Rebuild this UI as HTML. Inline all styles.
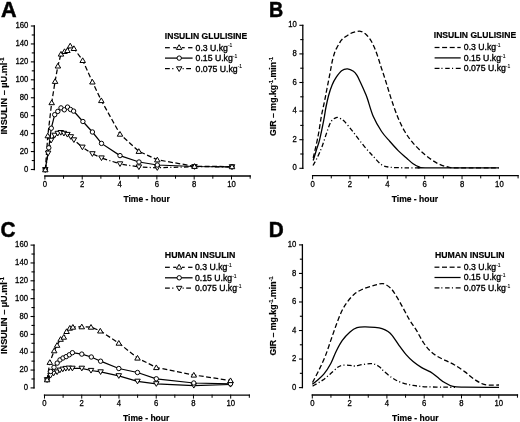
<!DOCTYPE html>
<html><head><meta charset="utf-8"><title>Figure</title>
<style>html,body{margin:0;padding:0;background:#fff;}svg{display:block;}</style>
</head><body>
<svg width="520" height="422" viewBox="0 0 520 422">
<rect width="520" height="422" fill="#fff"/>
<g font-family='"Liberation Sans", Arial, sans-serif' fill="#000">
<text x="0.9" y="17" font-size="21.6" font-weight="bold" text-anchor="start" stroke="#000" stroke-width="0.5">A</text>
<text x="269" y="16.7" font-size="21.6" font-weight="bold" text-anchor="start" textLength="14.2" lengthAdjust="spacingAndGlyphs" stroke="#000" stroke-width="0.5">B</text>
<text x="0.4" y="236.6" font-size="22.2" font-weight="bold" text-anchor="start" textLength="15" lengthAdjust="spacingAndGlyphs" stroke="#000" stroke-width="0.5">C</text>
<text x="268.8" y="236.6" font-size="21.6" font-weight="bold" text-anchor="start" textLength="15" lengthAdjust="spacingAndGlyphs" stroke="#000" stroke-width="0.5">D</text>
<g stroke="#000" fill="none" stroke-linecap="square">
<line x1="34.3" y1="26" x2="34.3" y2="169.5" stroke-width="1.3"/>
<line x1="31.4" y1="169.5" x2="34.3" y2="169.5" stroke-width="1.1"/>
<line x1="32.3" y1="160.53" x2="34.3" y2="160.53" stroke-width="1.1"/>
<line x1="31.4" y1="151.56" x2="34.3" y2="151.56" stroke-width="1.1"/>
<line x1="32.3" y1="142.59" x2="34.3" y2="142.59" stroke-width="1.1"/>
<line x1="31.4" y1="133.62" x2="34.3" y2="133.62" stroke-width="1.1"/>
<line x1="32.3" y1="124.66" x2="34.3" y2="124.66" stroke-width="1.1"/>
<line x1="31.4" y1="115.69" x2="34.3" y2="115.69" stroke-width="1.1"/>
<line x1="32.3" y1="106.72" x2="34.3" y2="106.72" stroke-width="1.1"/>
<line x1="31.4" y1="97.75" x2="34.3" y2="97.75" stroke-width="1.1"/>
<line x1="32.3" y1="88.78" x2="34.3" y2="88.78" stroke-width="1.1"/>
<line x1="31.4" y1="79.81" x2="34.3" y2="79.81" stroke-width="1.1"/>
<line x1="32.3" y1="70.84" x2="34.3" y2="70.84" stroke-width="1.1"/>
<line x1="31.4" y1="61.88" x2="34.3" y2="61.88" stroke-width="1.1"/>
<line x1="32.3" y1="52.91" x2="34.3" y2="52.91" stroke-width="1.1"/>
<line x1="31.4" y1="43.94" x2="34.3" y2="43.94" stroke-width="1.1"/>
<line x1="32.3" y1="34.97" x2="34.3" y2="34.97" stroke-width="1.1"/>
<line x1="31.4" y1="26" x2="34.3" y2="26" stroke-width="1.1"/>
<line x1="44.9" y1="176" x2="250.16" y2="176" stroke-width="1.3"/>
<line x1="44.9" y1="176" x2="44.9" y2="179" stroke-width="1.0"/>
<line x1="63.56" y1="176" x2="63.56" y2="178.2" stroke-width="1.0"/>
<line x1="82.22" y1="176" x2="82.22" y2="179" stroke-width="1.0"/>
<line x1="100.88" y1="176" x2="100.88" y2="178.2" stroke-width="1.0"/>
<line x1="119.54" y1="176" x2="119.54" y2="179" stroke-width="1.0"/>
<line x1="138.2" y1="176" x2="138.2" y2="178.2" stroke-width="1.0"/>
<line x1="156.86" y1="176" x2="156.86" y2="179" stroke-width="1.0"/>
<line x1="175.52" y1="176" x2="175.52" y2="178.2" stroke-width="1.0"/>
<line x1="194.18" y1="176" x2="194.18" y2="179" stroke-width="1.0"/>
<line x1="212.84" y1="176" x2="212.84" y2="178.2" stroke-width="1.0"/>
<line x1="231.5" y1="176" x2="231.5" y2="179" stroke-width="1.0"/>
<line x1="250.16" y1="176" x2="250.16" y2="178.2" stroke-width="1.0"/>
</g>
<text x="28.3" y="171.65" font-size="9.0" font-weight="normal" text-anchor="end" textLength="4.3" lengthAdjust="spacingAndGlyphs" stroke="#000" stroke-width="0.3">0</text>
<text x="28.3" y="153.71" font-size="9.0" font-weight="normal" text-anchor="end" textLength="8.6" lengthAdjust="spacingAndGlyphs" stroke="#000" stroke-width="0.3">20</text>
<text x="28.3" y="135.78" font-size="9.0" font-weight="normal" text-anchor="end" textLength="8.6" lengthAdjust="spacingAndGlyphs" stroke="#000" stroke-width="0.3">40</text>
<text x="28.3" y="117.84" font-size="9.0" font-weight="normal" text-anchor="end" textLength="8.6" lengthAdjust="spacingAndGlyphs" stroke="#000" stroke-width="0.3">60</text>
<text x="28.3" y="99.9" font-size="9.0" font-weight="normal" text-anchor="end" textLength="8.6" lengthAdjust="spacingAndGlyphs" stroke="#000" stroke-width="0.3">80</text>
<text x="28.3" y="81.96" font-size="9.0" font-weight="normal" text-anchor="end" textLength="12.9" lengthAdjust="spacingAndGlyphs" stroke="#000" stroke-width="0.3">100</text>
<text x="28.3" y="64.03" font-size="9.0" font-weight="normal" text-anchor="end" textLength="12.9" lengthAdjust="spacingAndGlyphs" stroke="#000" stroke-width="0.3">120</text>
<text x="28.3" y="46.09" font-size="9.0" font-weight="normal" text-anchor="end" textLength="12.9" lengthAdjust="spacingAndGlyphs" stroke="#000" stroke-width="0.3">140</text>
<text x="28.3" y="28.15" font-size="9.0" font-weight="normal" text-anchor="end" textLength="12.9" lengthAdjust="spacingAndGlyphs" stroke="#000" stroke-width="0.3">160</text>
<text x="44.9" y="187" font-size="9.0" font-weight="normal" text-anchor="middle" textLength="4.3" lengthAdjust="spacingAndGlyphs" stroke="#000" stroke-width="0.3">0</text>
<text x="82.22" y="187" font-size="9.0" font-weight="normal" text-anchor="middle" textLength="4.3" lengthAdjust="spacingAndGlyphs" stroke="#000" stroke-width="0.3">2</text>
<text x="119.54" y="187" font-size="9.0" font-weight="normal" text-anchor="middle" textLength="4.3" lengthAdjust="spacingAndGlyphs" stroke="#000" stroke-width="0.3">4</text>
<text x="156.86" y="187" font-size="9.0" font-weight="normal" text-anchor="middle" textLength="4.3" lengthAdjust="spacingAndGlyphs" stroke="#000" stroke-width="0.3">6</text>
<text x="194.18" y="187" font-size="9.0" font-weight="normal" text-anchor="middle" textLength="4.3" lengthAdjust="spacingAndGlyphs" stroke="#000" stroke-width="0.3">8</text>
<text x="231.5" y="187" font-size="9.0" font-weight="normal" text-anchor="middle" textLength="8.6" lengthAdjust="spacingAndGlyphs" stroke="#000" stroke-width="0.3">10</text>
<g stroke="#000" fill="none" stroke-linecap="square">
<line x1="302.8" y1="25.3" x2="302.8" y2="168.3" stroke-width="1.3"/>
<line x1="299.9" y1="168.3" x2="302.8" y2="168.3" stroke-width="1.1"/>
<line x1="300.8" y1="154" x2="302.8" y2="154" stroke-width="1.1"/>
<line x1="299.9" y1="139.7" x2="302.8" y2="139.7" stroke-width="1.1"/>
<line x1="300.8" y1="125.4" x2="302.8" y2="125.4" stroke-width="1.1"/>
<line x1="299.9" y1="111.1" x2="302.8" y2="111.1" stroke-width="1.1"/>
<line x1="300.8" y1="96.8" x2="302.8" y2="96.8" stroke-width="1.1"/>
<line x1="299.9" y1="82.5" x2="302.8" y2="82.5" stroke-width="1.1"/>
<line x1="300.8" y1="68.2" x2="302.8" y2="68.2" stroke-width="1.1"/>
<line x1="299.9" y1="53.9" x2="302.8" y2="53.9" stroke-width="1.1"/>
<line x1="300.8" y1="39.6" x2="302.8" y2="39.6" stroke-width="1.1"/>
<line x1="299.9" y1="25.3" x2="302.8" y2="25.3" stroke-width="1.1"/>
<line x1="312.6" y1="175.7" x2="518.08" y2="175.7" stroke-width="1.3"/>
<line x1="312.6" y1="175.7" x2="312.6" y2="178.7" stroke-width="1.0"/>
<line x1="331.28" y1="175.7" x2="331.28" y2="177.9" stroke-width="1.0"/>
<line x1="349.96" y1="175.7" x2="349.96" y2="178.7" stroke-width="1.0"/>
<line x1="368.64" y1="175.7" x2="368.64" y2="177.9" stroke-width="1.0"/>
<line x1="387.32" y1="175.7" x2="387.32" y2="178.7" stroke-width="1.0"/>
<line x1="406" y1="175.7" x2="406" y2="177.9" stroke-width="1.0"/>
<line x1="424.68" y1="175.7" x2="424.68" y2="178.7" stroke-width="1.0"/>
<line x1="443.36" y1="175.7" x2="443.36" y2="177.9" stroke-width="1.0"/>
<line x1="462.04" y1="175.7" x2="462.04" y2="178.7" stroke-width="1.0"/>
<line x1="480.72" y1="175.7" x2="480.72" y2="177.9" stroke-width="1.0"/>
<line x1="499.4" y1="175.7" x2="499.4" y2="178.7" stroke-width="1.0"/>
<line x1="518.08" y1="175.7" x2="518.08" y2="177.9" stroke-width="1.0"/>
</g>
<text x="296.8" y="170.45" font-size="9.0" font-weight="normal" text-anchor="end" textLength="4.3" lengthAdjust="spacingAndGlyphs" stroke="#000" stroke-width="0.3">0</text>
<text x="296.8" y="141.85" font-size="9.0" font-weight="normal" text-anchor="end" textLength="4.3" lengthAdjust="spacingAndGlyphs" stroke="#000" stroke-width="0.3">2</text>
<text x="296.8" y="113.25" font-size="9.0" font-weight="normal" text-anchor="end" textLength="4.3" lengthAdjust="spacingAndGlyphs" stroke="#000" stroke-width="0.3">4</text>
<text x="296.8" y="84.65" font-size="9.0" font-weight="normal" text-anchor="end" textLength="4.3" lengthAdjust="spacingAndGlyphs" stroke="#000" stroke-width="0.3">6</text>
<text x="296.8" y="56.05" font-size="9.0" font-weight="normal" text-anchor="end" textLength="4.3" lengthAdjust="spacingAndGlyphs" stroke="#000" stroke-width="0.3">8</text>
<text x="296.8" y="27.45" font-size="9.0" font-weight="normal" text-anchor="end" textLength="8.6" lengthAdjust="spacingAndGlyphs" stroke="#000" stroke-width="0.3">10</text>
<text x="312.6" y="186.7" font-size="9.0" font-weight="normal" text-anchor="middle" textLength="4.3" lengthAdjust="spacingAndGlyphs" stroke="#000" stroke-width="0.3">0</text>
<text x="349.96" y="186.7" font-size="9.0" font-weight="normal" text-anchor="middle" textLength="4.3" lengthAdjust="spacingAndGlyphs" stroke="#000" stroke-width="0.3">2</text>
<text x="387.32" y="186.7" font-size="9.0" font-weight="normal" text-anchor="middle" textLength="4.3" lengthAdjust="spacingAndGlyphs" stroke="#000" stroke-width="0.3">4</text>
<text x="424.68" y="186.7" font-size="9.0" font-weight="normal" text-anchor="middle" textLength="4.3" lengthAdjust="spacingAndGlyphs" stroke="#000" stroke-width="0.3">6</text>
<text x="462.04" y="186.7" font-size="9.0" font-weight="normal" text-anchor="middle" textLength="4.3" lengthAdjust="spacingAndGlyphs" stroke="#000" stroke-width="0.3">8</text>
<text x="499.4" y="186.7" font-size="9.0" font-weight="normal" text-anchor="middle" textLength="8.6" lengthAdjust="spacingAndGlyphs" stroke="#000" stroke-width="0.3">10</text>
<g stroke="#000" fill="none" stroke-linecap="square">
<line x1="34" y1="245.1" x2="34" y2="387.9" stroke-width="1.3"/>
<line x1="31.1" y1="387.9" x2="34" y2="387.9" stroke-width="1.1"/>
<line x1="32" y1="378.97" x2="34" y2="378.97" stroke-width="1.1"/>
<line x1="31.1" y1="370.05" x2="34" y2="370.05" stroke-width="1.1"/>
<line x1="32" y1="361.12" x2="34" y2="361.12" stroke-width="1.1"/>
<line x1="31.1" y1="352.2" x2="34" y2="352.2" stroke-width="1.1"/>
<line x1="32" y1="343.27" x2="34" y2="343.27" stroke-width="1.1"/>
<line x1="31.1" y1="334.35" x2="34" y2="334.35" stroke-width="1.1"/>
<line x1="32" y1="325.43" x2="34" y2="325.43" stroke-width="1.1"/>
<line x1="31.1" y1="316.5" x2="34" y2="316.5" stroke-width="1.1"/>
<line x1="32" y1="307.57" x2="34" y2="307.57" stroke-width="1.1"/>
<line x1="31.1" y1="298.65" x2="34" y2="298.65" stroke-width="1.1"/>
<line x1="32" y1="289.73" x2="34" y2="289.73" stroke-width="1.1"/>
<line x1="31.1" y1="280.8" x2="34" y2="280.8" stroke-width="1.1"/>
<line x1="32" y1="271.88" x2="34" y2="271.88" stroke-width="1.1"/>
<line x1="31.1" y1="262.95" x2="34" y2="262.95" stroke-width="1.1"/>
<line x1="32" y1="254.03" x2="34" y2="254.03" stroke-width="1.1"/>
<line x1="31.1" y1="245.1" x2="34" y2="245.1" stroke-width="1.1"/>
<line x1="44.5" y1="395.1" x2="249.32" y2="395.1" stroke-width="1.3"/>
<line x1="44.5" y1="395.1" x2="44.5" y2="398.1" stroke-width="1.0"/>
<line x1="63.12" y1="395.1" x2="63.12" y2="397.3" stroke-width="1.0"/>
<line x1="81.74" y1="395.1" x2="81.74" y2="398.1" stroke-width="1.0"/>
<line x1="100.36" y1="395.1" x2="100.36" y2="397.3" stroke-width="1.0"/>
<line x1="118.98" y1="395.1" x2="118.98" y2="398.1" stroke-width="1.0"/>
<line x1="137.6" y1="395.1" x2="137.6" y2="397.3" stroke-width="1.0"/>
<line x1="156.22" y1="395.1" x2="156.22" y2="398.1" stroke-width="1.0"/>
<line x1="174.84" y1="395.1" x2="174.84" y2="397.3" stroke-width="1.0"/>
<line x1="193.46" y1="395.1" x2="193.46" y2="398.1" stroke-width="1.0"/>
<line x1="212.08" y1="395.1" x2="212.08" y2="397.3" stroke-width="1.0"/>
<line x1="230.7" y1="395.1" x2="230.7" y2="398.1" stroke-width="1.0"/>
<line x1="249.32" y1="395.1" x2="249.32" y2="397.3" stroke-width="1.0"/>
</g>
<text x="28" y="390.05" font-size="9.0" font-weight="normal" text-anchor="end" textLength="4.3" lengthAdjust="spacingAndGlyphs" stroke="#000" stroke-width="0.3">0</text>
<text x="28" y="372.2" font-size="9.0" font-weight="normal" text-anchor="end" textLength="8.6" lengthAdjust="spacingAndGlyphs" stroke="#000" stroke-width="0.3">20</text>
<text x="28" y="354.35" font-size="9.0" font-weight="normal" text-anchor="end" textLength="8.6" lengthAdjust="spacingAndGlyphs" stroke="#000" stroke-width="0.3">40</text>
<text x="28" y="336.5" font-size="9.0" font-weight="normal" text-anchor="end" textLength="8.6" lengthAdjust="spacingAndGlyphs" stroke="#000" stroke-width="0.3">60</text>
<text x="28" y="318.65" font-size="9.0" font-weight="normal" text-anchor="end" textLength="8.6" lengthAdjust="spacingAndGlyphs" stroke="#000" stroke-width="0.3">80</text>
<text x="28" y="300.8" font-size="9.0" font-weight="normal" text-anchor="end" textLength="12.9" lengthAdjust="spacingAndGlyphs" stroke="#000" stroke-width="0.3">100</text>
<text x="28" y="282.95" font-size="9.0" font-weight="normal" text-anchor="end" textLength="12.9" lengthAdjust="spacingAndGlyphs" stroke="#000" stroke-width="0.3">120</text>
<text x="28" y="265.1" font-size="9.0" font-weight="normal" text-anchor="end" textLength="12.9" lengthAdjust="spacingAndGlyphs" stroke="#000" stroke-width="0.3">140</text>
<text x="28" y="247.25" font-size="9.0" font-weight="normal" text-anchor="end" textLength="12.9" lengthAdjust="spacingAndGlyphs" stroke="#000" stroke-width="0.3">160</text>
<text x="44.5" y="406.1" font-size="9.0" font-weight="normal" text-anchor="middle" textLength="4.3" lengthAdjust="spacingAndGlyphs" stroke="#000" stroke-width="0.3">0</text>
<text x="81.74" y="406.1" font-size="9.0" font-weight="normal" text-anchor="middle" textLength="4.3" lengthAdjust="spacingAndGlyphs" stroke="#000" stroke-width="0.3">2</text>
<text x="118.98" y="406.1" font-size="9.0" font-weight="normal" text-anchor="middle" textLength="4.3" lengthAdjust="spacingAndGlyphs" stroke="#000" stroke-width="0.3">4</text>
<text x="156.22" y="406.1" font-size="9.0" font-weight="normal" text-anchor="middle" textLength="4.3" lengthAdjust="spacingAndGlyphs" stroke="#000" stroke-width="0.3">6</text>
<text x="193.46" y="406.1" font-size="9.0" font-weight="normal" text-anchor="middle" textLength="4.3" lengthAdjust="spacingAndGlyphs" stroke="#000" stroke-width="0.3">8</text>
<text x="230.7" y="406.1" font-size="9.0" font-weight="normal" text-anchor="middle" textLength="8.6" lengthAdjust="spacingAndGlyphs" stroke="#000" stroke-width="0.3">10</text>
<g stroke="#000" fill="none" stroke-linecap="square">
<line x1="302.4" y1="244.9" x2="302.4" y2="387.6" stroke-width="1.3"/>
<line x1="299.5" y1="387.6" x2="302.4" y2="387.6" stroke-width="1.1"/>
<line x1="300.4" y1="373.33" x2="302.4" y2="373.33" stroke-width="1.1"/>
<line x1="299.5" y1="359.06" x2="302.4" y2="359.06" stroke-width="1.1"/>
<line x1="300.4" y1="344.79" x2="302.4" y2="344.79" stroke-width="1.1"/>
<line x1="299.5" y1="330.52" x2="302.4" y2="330.52" stroke-width="1.1"/>
<line x1="300.4" y1="316.25" x2="302.4" y2="316.25" stroke-width="1.1"/>
<line x1="299.5" y1="301.98" x2="302.4" y2="301.98" stroke-width="1.1"/>
<line x1="300.4" y1="287.71" x2="302.4" y2="287.71" stroke-width="1.1"/>
<line x1="299.5" y1="273.44" x2="302.4" y2="273.44" stroke-width="1.1"/>
<line x1="300.4" y1="259.17" x2="302.4" y2="259.17" stroke-width="1.1"/>
<line x1="299.5" y1="244.9" x2="302.4" y2="244.9" stroke-width="1.1"/>
<line x1="312.3" y1="395" x2="517.45" y2="395" stroke-width="1.3"/>
<line x1="312.3" y1="395" x2="312.3" y2="398" stroke-width="1.0"/>
<line x1="330.95" y1="395" x2="330.95" y2="397.2" stroke-width="1.0"/>
<line x1="349.6" y1="395" x2="349.6" y2="398" stroke-width="1.0"/>
<line x1="368.25" y1="395" x2="368.25" y2="397.2" stroke-width="1.0"/>
<line x1="386.9" y1="395" x2="386.9" y2="398" stroke-width="1.0"/>
<line x1="405.55" y1="395" x2="405.55" y2="397.2" stroke-width="1.0"/>
<line x1="424.2" y1="395" x2="424.2" y2="398" stroke-width="1.0"/>
<line x1="442.85" y1="395" x2="442.85" y2="397.2" stroke-width="1.0"/>
<line x1="461.5" y1="395" x2="461.5" y2="398" stroke-width="1.0"/>
<line x1="480.15" y1="395" x2="480.15" y2="397.2" stroke-width="1.0"/>
<line x1="498.8" y1="395" x2="498.8" y2="398" stroke-width="1.0"/>
<line x1="517.45" y1="395" x2="517.45" y2="397.2" stroke-width="1.0"/>
</g>
<text x="296.4" y="389.75" font-size="9.0" font-weight="normal" text-anchor="end" textLength="4.3" lengthAdjust="spacingAndGlyphs" stroke="#000" stroke-width="0.3">0</text>
<text x="296.4" y="361.21" font-size="9.0" font-weight="normal" text-anchor="end" textLength="4.3" lengthAdjust="spacingAndGlyphs" stroke="#000" stroke-width="0.3">2</text>
<text x="296.4" y="332.67" font-size="9.0" font-weight="normal" text-anchor="end" textLength="4.3" lengthAdjust="spacingAndGlyphs" stroke="#000" stroke-width="0.3">4</text>
<text x="296.4" y="304.13" font-size="9.0" font-weight="normal" text-anchor="end" textLength="4.3" lengthAdjust="spacingAndGlyphs" stroke="#000" stroke-width="0.3">6</text>
<text x="296.4" y="275.59" font-size="9.0" font-weight="normal" text-anchor="end" textLength="4.3" lengthAdjust="spacingAndGlyphs" stroke="#000" stroke-width="0.3">8</text>
<text x="296.4" y="247.05" font-size="9.0" font-weight="normal" text-anchor="end" textLength="8.6" lengthAdjust="spacingAndGlyphs" stroke="#000" stroke-width="0.3">10</text>
<text x="312.3" y="406" font-size="9.0" font-weight="normal" text-anchor="middle" textLength="4.3" lengthAdjust="spacingAndGlyphs" stroke="#000" stroke-width="0.3">0</text>
<text x="349.6" y="406" font-size="9.0" font-weight="normal" text-anchor="middle" textLength="4.3" lengthAdjust="spacingAndGlyphs" stroke="#000" stroke-width="0.3">2</text>
<text x="386.9" y="406" font-size="9.0" font-weight="normal" text-anchor="middle" textLength="4.3" lengthAdjust="spacingAndGlyphs" stroke="#000" stroke-width="0.3">4</text>
<text x="424.2" y="406" font-size="9.0" font-weight="normal" text-anchor="middle" textLength="4.3" lengthAdjust="spacingAndGlyphs" stroke="#000" stroke-width="0.3">6</text>
<text x="461.5" y="406" font-size="9.0" font-weight="normal" text-anchor="middle" textLength="4.3" lengthAdjust="spacingAndGlyphs" stroke="#000" stroke-width="0.3">8</text>
<text x="498.8" y="406" font-size="9.0" font-weight="normal" text-anchor="middle" textLength="8.6" lengthAdjust="spacingAndGlyphs" stroke="#000" stroke-width="0.3">10</text>
<text x="146.6" y="201.7" font-size="9.2" font-weight="bold" text-anchor="middle" textLength="46.4" lengthAdjust="spacingAndGlyphs" stroke="#000" stroke-width="0.2">Time - hour</text>
<text x="414.9" y="201.6" font-size="9.2" font-weight="bold" text-anchor="middle" textLength="46.4" lengthAdjust="spacingAndGlyphs" stroke="#000" stroke-width="0.2">Time - hour</text>
<text x="146.2" y="421" font-size="9.2" font-weight="bold" text-anchor="middle" textLength="46.4" lengthAdjust="spacingAndGlyphs" stroke="#000" stroke-width="0.2">Time - hour</text>
<text x="415.3" y="420.8" font-size="9.2" font-weight="bold" text-anchor="middle" textLength="46.4" lengthAdjust="spacingAndGlyphs" stroke="#000" stroke-width="0.2">Time - hour</text>
<text transform="translate(7.4 134.5) rotate(-90) scale(0.985 1)" font-size="9.3" font-weight="bold" stroke="#000" stroke-width="0.15">INSULIN – µU.ml<tspan font-size="6" dy="-3.6">-1</tspan></text>
<text transform="translate(7.4 354.0) rotate(-90) scale(0.985 1)" font-size="9.3" font-weight="bold" stroke="#000" stroke-width="0.15">INSULIN – µU.ml<tspan font-size="6" dy="-3.6">-1</tspan></text>
<text transform="translate(276.2 136.0) rotate(-90) scale(0.955 1)" font-size="9.2" font-weight="bold" stroke="#000" stroke-width="0.15">GIR – mg.kg<tspan font-size="5.8" dy="-3.6">-1</tspan><tspan dy="3.6">.min</tspan><tspan font-size="5.8" dy="-3.6">-1</tspan></text>
<text transform="translate(276.2 355.6) rotate(-90) scale(0.955 1)" font-size="9.2" font-weight="bold" stroke="#000" stroke-width="0.15">GIR – mg.kg<tspan font-size="5.8" dy="-3.6">-1</tspan><tspan dy="3.6">.min</tspan><tspan font-size="5.8" dy="-3.6">-1</tspan></text>
<path d="M45.3 169.7 L48.1 153.2 L51.2 140.3 L54.7 135.3 L57.8 133.4 L60.8 132.6 L63.9 133.4 L67.4 134.5 L70.8 136.8 L73.9 139.9 L82.4 147.2 L92.4 153.8 L101.5 158 L120 163.9 L138.9 167 L157.3 167.8 L194.5 166.7 L232 166.8" fill="none" stroke="#000" stroke-width="1.25" stroke-dasharray="4.6 2.3 1.1 2.3"/>
<path d="M45.3 169.7 L48.8 147.8 L51.3 128.2 L54.7 114.7 L57.8 111.4 L61 107.9 L64.3 109.8 L67.5 107.1 L70.5 109.5 L73.6 111.1 L82.9 121.5 L92.4 132 L101.5 143.4 L120 155.6 L139 162 L157.3 165 L194.5 166.5 L232 166.8" fill="none" stroke="#000" stroke-width="1.25"/>
<path d="M45.3 169.7 L47.8 135.7 L51.7 102.6 L55.1 81.3 L57.9 65.9 L61 54 L64.5 51.4 L67.4 50.4 L70.2 45.8 L73.9 48.4 L82.7 60.4 L92.4 81.9 L101.3 100.5 L120 134.1 L138.8 151.3 L157.3 159.8 L194.5 166.3 L232 166.6" fill="none" stroke="#000" stroke-width="1.25" stroke-dasharray="4.9 2.5"/>
<g fill="#fff" stroke="#000" stroke-width="1">
<path d="M45.3 172.27L48.05 167.6H42.55Z"/>
<path d="M48.1 155.77L50.85 151.1H45.35Z"/>
<path d="M51.2 142.87L53.95 138.2H48.45Z"/>
<path d="M54.7 137.87L57.45 133.2H51.95Z"/>
<path d="M57.8 135.97L60.55 131.3H55.05Z"/>
<path d="M60.8 135.17L63.55 130.5H58.05Z"/>
<path d="M63.9 135.97L66.65 131.3H61.15Z"/>
<path d="M67.4 137.07L70.15 132.4H64.65Z"/>
<path d="M70.8 139.37L73.55 134.7H68.05Z"/>
<path d="M73.9 142.47L76.65 137.8H71.15Z"/>
<path d="M82.4 149.77L85.15 145.1H79.65Z"/>
<path d="M92.4 156.37L95.15 151.7H89.65Z"/>
<path d="M101.5 160.57L104.25 155.9H98.75Z"/>
<path d="M120 166.47L122.75 161.8H117.25Z"/>
<path d="M138.9 169.57L141.65 164.9H136.15Z"/>
<path d="M157.3 170.37L160.05 165.7H154.55Z"/>
<path d="M194.5 169.27L197.25 164.6H191.75Z"/>
<path d="M232 169.37L234.75 164.7H229.25Z"/>
</g>
<g fill="#fff" stroke="#000" stroke-width="1">
<circle cx="45.3" cy="169.7" r="2.2"/>
<circle cx="48.8" cy="147.8" r="2.2"/>
<circle cx="51.3" cy="128.2" r="2.2"/>
<circle cx="54.7" cy="114.7" r="2.2"/>
<circle cx="57.8" cy="111.4" r="2.2"/>
<circle cx="61" cy="107.9" r="2.2"/>
<circle cx="64.3" cy="109.8" r="2.2"/>
<circle cx="67.5" cy="107.1" r="2.2"/>
<circle cx="70.5" cy="109.5" r="2.2"/>
<circle cx="73.6" cy="111.1" r="2.2"/>
<circle cx="82.9" cy="121.5" r="2.2"/>
<circle cx="92.4" cy="132" r="2.2"/>
<circle cx="101.5" cy="143.4" r="2.2"/>
<circle cx="120" cy="155.6" r="2.2"/>
<circle cx="139" cy="162" r="2.2"/>
<circle cx="157.3" cy="165" r="2.2"/>
<circle cx="194.5" cy="166.5" r="2.2"/>
<circle cx="232" cy="166.8" r="2.2"/>
</g>
<g fill="#fff" stroke="#000" stroke-width="1">
<path d="M45.3 167.13L48.05 171.8H42.55Z"/>
<path d="M47.8 133.13L50.55 137.8H45.05Z"/>
<path d="M51.7 100.03L54.45 104.7H48.95Z"/>
<path d="M55.1 78.73L57.85 83.4H52.35Z"/>
<path d="M57.9 63.33L60.65 68H55.15Z"/>
<path d="M61 51.43L63.75 56.1H58.25Z"/>
<path d="M64.5 48.83L67.25 53.5H61.75Z"/>
<path d="M67.4 47.83L70.15 52.5H64.65Z"/>
<path d="M70.2 43.23L72.95 47.9H67.45Z"/>
<path d="M73.9 45.83L76.65 50.5H71.15Z"/>
<path d="M82.7 57.83L85.45 62.5H79.95Z"/>
<path d="M92.4 79.33L95.15 84H89.65Z"/>
<path d="M101.3 97.93L104.05 102.6H98.55Z"/>
<path d="M120 131.53L122.75 136.2H117.25Z"/>
<path d="M138.8 148.73L141.55 153.4H136.05Z"/>
<path d="M157.3 157.23L160.05 161.9H154.55Z"/>
<path d="M194.5 163.73L197.25 168.4H191.75Z"/>
<path d="M232 164.03L234.75 168.7H229.25Z"/>
</g>
<path d="M47.1 379.7 L50.5 375.5 L53.6 373.3 L57.1 372 L59.9 370.2 L62.8 369.2 L65.8 368.5 L68.9 368.2 L72.4 368.3 L81.8 368.3 L91 370.5 L100.6 371.9 L118.8 375.8 L137.5 381.3 L156.3 383.8 L193.8 385.5 L230.5 384.5" fill="none" stroke="#000" stroke-width="1.25"/>
<path d="M47.1 379.7 L50.6 371.5 L54 367.3 L57.2 363.1 L60 359.9 L63 358 L66.2 356.6 L69.3 354.8 L72.4 352.7 L81.8 354.1 L91.3 357 L100.6 361.2 L118.8 368.5 L137.5 372.5 L156.3 378.8 L193.8 383 L230.5 383.8" fill="none" stroke="#000" stroke-width="1.25"/>
<path d="M47.1 379.7 L49.8 362.3 L54.2 350.7 L57.1 345.2 L60.6 339.2 L63.8 337.1 L66.6 331.4 L69.8 328.1 L72.9 327.1 L81.8 326.7 L91 327.1 L100.3 330.9 L118.8 343.1 L137.5 358 L156.3 367.5 L193.8 375 L230.5 380.5" fill="none" stroke="#000" stroke-width="1.25" stroke-dasharray="4.9 2.5"/>
<g fill="#fff" stroke="#000" stroke-width="1">
<path d="M47.1 382.27L49.85 377.6H44.35Z"/>
<path d="M50.5 378.07L53.25 373.4H47.75Z"/>
<path d="M53.6 375.87L56.35 371.2H50.85Z"/>
<path d="M57.1 374.57L59.85 369.9H54.35Z"/>
<path d="M59.9 372.77L62.65 368.1H57.15Z"/>
<path d="M62.8 371.77L65.55 367.1H60.05Z"/>
<path d="M65.8 371.07L68.55 366.4H63.05Z"/>
<path d="M68.9 370.77L71.65 366.1H66.15Z"/>
<path d="M72.4 370.87L75.15 366.2H69.65Z"/>
<path d="M81.8 370.87L84.55 366.2H79.05Z"/>
<path d="M91 373.07L93.75 368.4H88.25Z"/>
<path d="M100.6 374.47L103.35 369.8H97.85Z"/>
<path d="M118.8 378.37L121.55 373.7H116.05Z"/>
<path d="M137.5 383.87L140.25 379.2H134.75Z"/>
<path d="M156.3 386.37L159.05 381.7H153.55Z"/>
<path d="M193.8 388.07L196.55 383.4H191.05Z"/>
<path d="M230.5 387.07L233.25 382.4H227.75Z"/>
</g>
<g fill="#fff" stroke="#000" stroke-width="1">
<circle cx="47.1" cy="379.7" r="2.2"/>
<circle cx="50.6" cy="371.5" r="2.2"/>
<circle cx="54" cy="367.3" r="2.2"/>
<circle cx="57.2" cy="363.1" r="2.2"/>
<circle cx="60" cy="359.9" r="2.2"/>
<circle cx="63" cy="358" r="2.2"/>
<circle cx="66.2" cy="356.6" r="2.2"/>
<circle cx="69.3" cy="354.8" r="2.2"/>
<circle cx="72.4" cy="352.7" r="2.2"/>
<circle cx="81.8" cy="354.1" r="2.2"/>
<circle cx="91.3" cy="357" r="2.2"/>
<circle cx="100.6" cy="361.2" r="2.2"/>
<circle cx="118.8" cy="368.5" r="2.2"/>
<circle cx="137.5" cy="372.5" r="2.2"/>
<circle cx="156.3" cy="378.8" r="2.2"/>
<circle cx="193.8" cy="383" r="2.2"/>
<circle cx="230.5" cy="383.8" r="2.2"/>
</g>
<g fill="#fff" stroke="#000" stroke-width="1">
<path d="M47.1 377.13L49.85 381.8H44.35Z"/>
<path d="M49.8 359.73L52.55 364.4H47.05Z"/>
<path d="M54.2 348.13L56.95 352.8H51.45Z"/>
<path d="M57.1 342.63L59.85 347.3H54.35Z"/>
<path d="M60.6 336.63L63.35 341.3H57.85Z"/>
<path d="M63.8 334.53L66.55 339.2H61.05Z"/>
<path d="M66.6 328.83L69.35 333.5H63.85Z"/>
<path d="M69.8 325.53L72.55 330.2H67.05Z"/>
<path d="M72.9 324.53L75.65 329.2H70.15Z"/>
<path d="M81.8 324.13L84.55 328.8H79.05Z"/>
<path d="M91 324.53L93.75 329.2H88.25Z"/>
<path d="M100.3 328.33L103.05 333H97.55Z"/>
<path d="M118.8 340.53L121.55 345.2H116.05Z"/>
<path d="M137.5 355.43L140.25 360.1H134.75Z"/>
<path d="M156.3 364.93L159.05 369.6H153.55Z"/>
<path d="M193.8 372.43L196.55 377.1H191.05Z"/>
<path d="M230.5 377.93L233.25 382.6H227.75Z"/>
</g>
<path d="M313.2 158 C314 154.42 316.65 143.4 318 136.5 C319.35 129.6 320.38 121.68 321.3 116.6 C322.22 111.52 322.85 109.1 323.5 106 C324.15 102.9 324.63 100.83 325.2 98 C325.77 95.17 326.32 92 326.9 89 C327.48 86 328.1 83.08 328.7 80 C329.3 76.92 329.9 73.67 330.5 70.5 C331.1 67.33 331.62 63.97 332.3 61 C332.98 58.03 333.82 54.95 334.6 52.7 C335.38 50.45 336.2 49.07 337 47.5 C337.8 45.93 338.7 44.48 339.4 43.3 C340.1 42.12 340.42 41.35 341.2 40.4 C341.98 39.45 343.12 38.38 344.1 37.6 C345.08 36.82 346.12 36.33 347.1 35.7 C348.08 35.07 348.82 34.4 350 33.8 C351.18 33.2 352.45 32.52 354.2 32.1 C355.95 31.68 358.52 30.9 360.5 31.3 C362.48 31.7 364.38 32.98 366.1 34.5 C367.82 36.02 369.42 38.23 370.8 40.4 C372.18 42.57 373.22 44.73 374.4 47.5 C375.58 50.27 376.82 53.83 377.9 57 C378.98 60.17 379.95 63.58 380.9 66.5 C381.85 69.42 382.57 71.32 383.6 74.5 C384.63 77.68 385.7 81.13 387.1 85.6 C388.5 90.07 390.15 95.87 392 101.3 C393.85 106.73 396.07 113.17 398.2 118.2 C400.33 123.23 402.32 127.35 404.8 131.5 C407.28 135.65 409.73 139.23 413.1 143.1 C416.47 146.97 420.9 151.3 425 154.7 C429.1 158.1 433.67 161.4 437.7 163.5 C441.73 165.6 445.48 166.58 449.2 167.3 C452.92 168.02 451.7 167.72 460 167.8 C468.3 167.88 492.5 167.8 499 167.8" fill="none" stroke="#000" stroke-width="1.3" stroke-dasharray="4.9 2.5"/>
<path d="M313.2 160.5 C313.73 158.75 315.33 153.45 316.4 150 C317.47 146.55 318.37 144.82 319.6 139.8 C320.83 134.78 322.75 125.28 323.8 119.9 C324.85 114.52 325.1 111.57 325.9 107.5 C326.7 103.43 327.57 99.27 328.6 95.5 C329.63 91.73 330.82 87.95 332.1 84.9 C333.38 81.85 334.72 79.57 336.3 77.2 C337.88 74.83 339.73 72.08 341.6 70.7 C343.47 69.32 345.53 68.8 347.5 68.9 C349.47 69 351.82 70.22 353.4 71.3 C354.98 72.38 355.82 73.53 357 75.4 C358.18 77.27 359.12 79.53 360.5 82.5 C361.88 85.47 364.13 90.45 365.3 93.2 C366.47 95.95 366.17 95.1 367.5 99 C368.83 102.9 370.95 111.18 373.3 116.6 C375.65 122.02 378.83 127.35 381.6 131.5 C384.37 135.65 387.13 138.32 389.9 141.5 C392.67 144.68 395.43 147.85 398.2 150.6 C400.97 153.35 404.02 155.8 406.5 158 C408.98 160.2 410.9 162.27 413.1 163.8 C415.3 165.33 417.72 166.53 419.7 167.2 C421.68 167.87 411.78 167.7 425 167.8 C438.22 167.9 486.67 167.8 499 167.8" fill="none" stroke="#000" stroke-width="1.3"/>
<path d="M313 165.5 C313.68 164.25 315.58 161.18 317.1 158 C318.62 154.82 320.43 150.82 322.1 146.4 C323.77 141.98 325.58 135.68 327.1 131.5 C328.62 127.32 329.68 123.62 331.2 121.3 C332.72 118.98 334.98 118.18 336.2 117.6 C337.42 117.02 337.15 117.18 338.5 117.8 C339.85 118.42 341.82 118.88 344.3 121.3 C346.78 123.72 350.2 128.28 353.4 132.3 C356.6 136.32 360.18 141.38 363.5 145.4 C366.82 149.42 370.28 153.18 373.3 156.4 C376.32 159.62 378.83 162.9 381.6 164.7 C384.37 166.5 386.03 166.68 389.9 167.2 C393.77 167.72 399.78 167.7 404.8 167.8 C409.82 167.9 417.47 167.8 420 167.8" fill="none" stroke="#000" stroke-width="1.3" stroke-dasharray="4.6 2.3 1.1 2.3"/>
<path d="M312.5 382.5 C313.62 380.35 317.05 374.05 319.2 369.6 C321.35 365.15 323.47 360.67 325.4 355.8 C327.33 350.93 329 345.53 330.8 340.4 C332.6 335.27 334.35 329.93 336.2 325 C338.05 320.07 340.05 314.63 341.9 310.8 C343.75 306.97 345.25 304.77 347.3 302 C349.35 299.23 351.77 296.28 354.2 294.2 C356.63 292.12 359.07 290.82 361.9 289.5 C364.73 288.18 368.68 287.12 371.2 286.3 C373.72 285.48 374.98 285.03 377 284.6 C379.02 284.17 381 283.08 383.3 283.7 C385.6 284.32 388.58 286.15 390.8 288.3 C393.02 290.45 394.53 293.28 396.6 296.6 C398.67 299.92 401.03 304.3 403.2 308.2 C405.37 312.1 407.38 316.3 409.6 320 C411.82 323.7 414.2 326.65 416.5 330.4 C418.8 334.15 421.08 339.05 423.4 342.5 C425.72 345.95 428.08 348.8 430.4 351.1 C432.72 353.4 434.72 354.7 437.3 356.3 C439.88 357.9 443.02 359.25 445.9 360.7 C448.78 362.15 451.42 363.13 454.6 365 C457.78 366.87 461.6 369.43 465 371.9 C468.4 374.37 471.67 377.68 475 379.8 C478.33 381.92 481 383.73 485 384.6 C489 385.47 496.67 384.93 499 385" fill="none" stroke="#000" stroke-width="1.3" stroke-dasharray="4.9 2.5"/>
<path d="M312.3 384.2 C312.95 383.7 314.28 382.87 316.2 381.2 C318.12 379.53 321.37 377.15 323.8 374.2 C326.23 371.25 328.73 367.33 330.8 363.5 C332.87 359.67 334.28 355.05 336.2 351.2 C338.12 347.35 340 343.62 342.3 340.4 C344.6 337.18 347.55 334.03 350 331.9 C352.45 329.77 354.5 328.45 357 327.6 C359.5 326.75 362 326.83 365 326.8 C368 326.77 372.17 327.1 375 327.4 C377.83 327.7 379.83 327.92 382 328.6 C384.17 329.28 386.28 330.33 388 331.5 C389.72 332.67 390.43 333.25 392.3 335.6 C394.17 337.95 396.9 342.43 399.2 345.6 C401.5 348.77 403.78 351.95 406.1 354.6 C408.42 357.25 410.5 359.33 413.1 361.5 C415.7 363.67 418.82 365.87 421.7 367.6 C424.58 369.33 427.8 370.32 430.4 371.9 C433 373.48 435 375.37 437.3 377.1 C439.6 378.83 441.6 380.75 444.2 382.3 C446.8 383.85 449.43 385.58 452.9 386.4 C456.37 387.22 457.32 387.05 465 387.2 C472.68 387.35 493.33 387.28 499 387.3" fill="none" stroke="#000" stroke-width="1.3"/>
<path d="M312.6 386.1 C314.22 385.15 319.4 382.38 322.3 380.4 C325.2 378.42 327.43 376.38 330 374.2 C332.57 372.02 335.65 368.78 337.7 367.3 C339.75 365.82 340.25 365.62 342.3 365.3 C344.35 364.98 347.88 365.28 350 365.4 C352.12 365.52 353 366.13 355 366 C357 365.87 359.5 364.98 362 364.6 C364.5 364.22 367.83 363.75 370 363.7 C372.17 363.65 373.33 363.7 375 364.3 C376.67 364.9 378.55 366.18 380 367.3 C381.45 368.42 381.65 369.22 383.7 371 C385.75 372.78 389.42 376.12 392.3 378 C395.18 379.88 397.53 381.07 401 382.3 C404.47 383.53 408.78 384.65 413.1 385.4 C417.42 386.15 421.13 386.5 426.9 386.8 C432.67 387.1 443.02 387.12 447.7 387.2 C452.38 387.28 453.78 387.28 455 387.3" fill="none" stroke="#000" stroke-width="1.3" stroke-dasharray="4.6 2.3 1.1 2.3"/>
<text x="164.8" y="39" font-size="9.3" font-weight="bold" text-anchor="start" textLength="82.5" lengthAdjust="spacingAndGlyphs" stroke="#000" stroke-width="0.2">INSULIN GLULISINE</text>
<line x1="165" y1="47.7" x2="169.8" y2="47.7" stroke="#000" stroke-width="1.25"/>
<line x1="173.2" y1="47.7" x2="176.4" y2="47.7" stroke="#000" stroke-width="1.25"/>
<line x1="182" y1="47.7" x2="184.7" y2="47.7" stroke="#000" stroke-width="1.25"/>
<line x1="188.1" y1="47.7" x2="192.5" y2="47.7" stroke="#000" stroke-width="1.25"/>
<g fill="#fff" stroke="#000" stroke-width="1">
<path d="M179.1 44.73L181.85 49.4H176.35Z"/>
</g>
<line x1="165" y1="58.1" x2="192.6" y2="58.1" stroke="#000" stroke-width="1.25"/>
<g fill="#fff" stroke="#000" stroke-width="1">
<circle cx="179.2" cy="58.1" r="2.2"/>
</g>
<line x1="165" y1="68.6" x2="169.8" y2="68.6" stroke="#000" stroke-width="1.25"/>
<line x1="172.2" y1="68.6" x2="173.4" y2="68.6" stroke="#000" stroke-width="1.25"/>
<line x1="182.6" y1="68.6" x2="183.7" y2="68.6" stroke="#000" stroke-width="1.25"/>
<line x1="186.2" y1="68.6" x2="191" y2="68.6" stroke="#000" stroke-width="1.25"/>
<g fill="#fff" stroke="#000" stroke-width="1">
<path d="M179.2 71.47L181.95 66.8H176.45Z"/>
</g>
<text x="195.6" y="50.65" font-size="8.7" font-weight="normal" text-anchor="start" stroke="#000" stroke-width="0.35">0.3 U.kg<tspan font-size="5" dy="-3.2" stroke-width="0.1">-1</tspan></text>
<text x="195.6" y="61.05" font-size="8.7" font-weight="normal" text-anchor="start" stroke="#000" stroke-width="0.35">0.15 U.kg<tspan font-size="5" dy="-3.2" stroke-width="0.1">-1</tspan></text>
<text x="195.6" y="71.55" font-size="8.7" font-weight="normal" text-anchor="start" stroke="#000" stroke-width="0.35">0.075 U.kg<tspan font-size="5" dy="-3.2" stroke-width="0.1">-1</tspan></text>
<text x="433.8" y="38.4" font-size="9.3" font-weight="bold" text-anchor="start" textLength="82.3" lengthAdjust="spacingAndGlyphs" stroke="#000" stroke-width="0.2">INSULIN GLULISINE</text>
<line x1="434.6" y1="47.5" x2="439.5" y2="47.5" stroke="#000" stroke-width="1.25"/>
<line x1="442.1" y1="47.5" x2="447.1" y2="47.5" stroke="#000" stroke-width="1.25"/>
<line x1="449.7" y1="47.5" x2="454.7" y2="47.5" stroke="#000" stroke-width="1.25"/>
<line x1="457.3" y1="47.5" x2="460.7" y2="47.5" stroke="#000" stroke-width="1.25"/>
<line x1="434.6" y1="57.9" x2="460.7" y2="57.9" stroke="#000" stroke-width="1.25"/>
<line x1="434.6" y1="68.4" x2="439.5" y2="68.4" stroke="#000" stroke-width="1.25"/>
<line x1="441.4" y1="68.4" x2="442.5" y2="68.4" stroke="#000" stroke-width="1.25"/>
<line x1="445.2" y1="68.4" x2="449.7" y2="68.4" stroke="#000" stroke-width="1.25"/>
<line x1="452" y1="68.4" x2="453.1" y2="68.4" stroke="#000" stroke-width="1.25"/>
<line x1="455.8" y1="68.4" x2="460.7" y2="68.4" stroke="#000" stroke-width="1.25"/>
<text x="463.8" y="50.45" font-size="8.7" font-weight="normal" text-anchor="start" stroke="#000" stroke-width="0.35">0.3 U.kg<tspan font-size="5" dy="-3.2" stroke-width="0.1">-1</tspan></text>
<text x="463.8" y="60.85" font-size="8.7" font-weight="normal" text-anchor="start" stroke="#000" stroke-width="0.35">0.15 U.kg<tspan font-size="5" dy="-3.2" stroke-width="0.1">-1</tspan></text>
<text x="463.8" y="71.35" font-size="8.7" font-weight="normal" text-anchor="start" stroke="#000" stroke-width="0.35">0.075 U.kg<tspan font-size="5" dy="-3.2" stroke-width="0.1">-1</tspan></text>
<text x="164.8" y="258.3" font-size="9.3" font-weight="bold" text-anchor="start" textLength="70.6" lengthAdjust="spacingAndGlyphs" stroke="#000" stroke-width="0.2">HUMAN INSULIN</text>
<line x1="165" y1="267.3" x2="169.8" y2="267.3" stroke="#000" stroke-width="1.25"/>
<line x1="173.2" y1="267.3" x2="176.4" y2="267.3" stroke="#000" stroke-width="1.25"/>
<line x1="182" y1="267.3" x2="184.7" y2="267.3" stroke="#000" stroke-width="1.25"/>
<line x1="188.1" y1="267.3" x2="192.5" y2="267.3" stroke="#000" stroke-width="1.25"/>
<g fill="#fff" stroke="#000" stroke-width="1">
<path d="M179.1 264.33L181.85 269H176.35Z"/>
</g>
<line x1="165" y1="277.8" x2="192.6" y2="277.8" stroke="#000" stroke-width="1.25"/>
<g fill="#fff" stroke="#000" stroke-width="1">
<circle cx="179.2" cy="277.8" r="2.2"/>
</g>
<line x1="165" y1="288.1" x2="169.8" y2="288.1" stroke="#000" stroke-width="1.25"/>
<line x1="172.2" y1="288.1" x2="173.4" y2="288.1" stroke="#000" stroke-width="1.25"/>
<line x1="182.6" y1="288.1" x2="183.7" y2="288.1" stroke="#000" stroke-width="1.25"/>
<line x1="186.2" y1="288.1" x2="191" y2="288.1" stroke="#000" stroke-width="1.25"/>
<g fill="#fff" stroke="#000" stroke-width="1">
<path d="M179.2 290.97L181.95 286.3H176.45Z"/>
</g>
<text x="195" y="270.25" font-size="8.7" font-weight="normal" text-anchor="start" stroke="#000" stroke-width="0.35">0.3 U.kg<tspan font-size="5" dy="-3.2" stroke-width="0.1">-1</tspan></text>
<text x="195" y="280.75" font-size="8.7" font-weight="normal" text-anchor="start" stroke="#000" stroke-width="0.35">0.15 U.kg<tspan font-size="5" dy="-3.2" stroke-width="0.1">-1</tspan></text>
<text x="195" y="291.05" font-size="8.7" font-weight="normal" text-anchor="start" stroke="#000" stroke-width="0.35">0.075 U.kg<tspan font-size="5" dy="-3.2" stroke-width="0.1">-1</tspan></text>
<text x="435" y="257.9" font-size="9.3" font-weight="bold" text-anchor="start" textLength="69.6" lengthAdjust="spacingAndGlyphs" stroke="#000" stroke-width="0.2">HUMAN INSULIN</text>
<line x1="434.5" y1="267.2" x2="439.4" y2="267.2" stroke="#000" stroke-width="1.25"/>
<line x1="442" y1="267.2" x2="447" y2="267.2" stroke="#000" stroke-width="1.25"/>
<line x1="449.6" y1="267.2" x2="454.6" y2="267.2" stroke="#000" stroke-width="1.25"/>
<line x1="457.2" y1="267.2" x2="460.6" y2="267.2" stroke="#000" stroke-width="1.25"/>
<line x1="434.5" y1="277.5" x2="460.6" y2="277.5" stroke="#000" stroke-width="1.25"/>
<line x1="434.5" y1="287.9" x2="439.4" y2="287.9" stroke="#000" stroke-width="1.25"/>
<line x1="441.3" y1="287.9" x2="442.4" y2="287.9" stroke="#000" stroke-width="1.25"/>
<line x1="445.1" y1="287.9" x2="449.6" y2="287.9" stroke="#000" stroke-width="1.25"/>
<line x1="451.9" y1="287.9" x2="453" y2="287.9" stroke="#000" stroke-width="1.25"/>
<line x1="455.7" y1="287.9" x2="460.6" y2="287.9" stroke="#000" stroke-width="1.25"/>
<text x="463.8" y="270.15" font-size="8.7" font-weight="normal" text-anchor="start" stroke="#000" stroke-width="0.35">0.3 U.kg<tspan font-size="5" dy="-3.2" stroke-width="0.1">-1</tspan></text>
<text x="463.8" y="280.45" font-size="8.7" font-weight="normal" text-anchor="start" stroke="#000" stroke-width="0.35">0.15 U.kg<tspan font-size="5" dy="-3.2" stroke-width="0.1">-1</tspan></text>
<text x="463.8" y="290.85" font-size="8.7" font-weight="normal" text-anchor="start" stroke="#000" stroke-width="0.35">0.075 U.kg<tspan font-size="5" dy="-3.2" stroke-width="0.1">-1</tspan></text>
</g></svg>
</body></html>
